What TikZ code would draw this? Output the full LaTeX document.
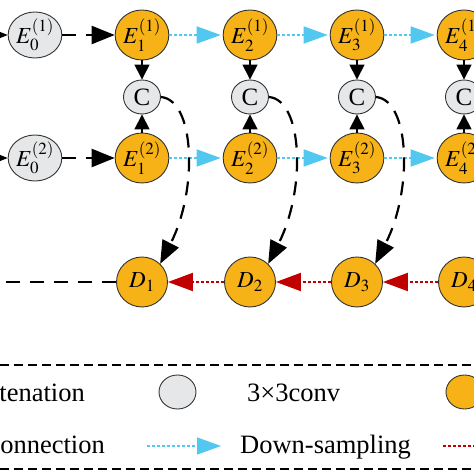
\documentclass[tikz,border=0pt]{standalone}
\usepackage{mathptmx}
\usepackage{fontspec}
\setmainfont{Liberation Serif}
\usetikzlibrary{arrows.meta,shapes.geometric}

\definecolor{encorange}{RGB}{246,178,22}
\definecolor{convgray}{RGB}{230,231,232}
\definecolor{downcyan}{RGB}{82,200,240}
\definecolor{upred}{RGB}{192,0,0}

\begin{document}
\begin{tikzpicture}[x=1pt,y=1pt,
    convnode/.style={ellipse, draw=black!80, line width=0.9pt, fill=convgray, inner sep=0pt,
        minimum width=53pt, minimum height=46pt, font=\fontsize{23}{27}\selectfont},
    encnode/.style={ellipse, draw=black!80, line width=0.9pt, fill=encorange, inner sep=0pt,
        minimum width=51pt, minimum height=50pt, font=\fontsize{23}{27}\selectfont},
    catnode/.style={convnode, minimum width=37pt, minimum height=34pt, font=\fontsize{25}{30}\selectfont},
    keynode/.style={minimum width=37pt, minimum height=34pt},
    legendtext/.style={inner sep=0pt, font=\fontsize{26.5}{30}\selectfont},
    longdash/.style={line width=2.2pt, dash pattern=on 14pt off 10pt},
    sepline/.style={line width=1.8pt, dash pattern=on 9pt off 5pt},
    blacktip/.style={-{Triangle[length=23pt,width=18pt]}},
    smalltip/.style={line width=1.5pt, -{Triangle[length=15pt,width=15pt]}},
    downarrow/.style={downcyan, line width=1.6pt, dash pattern=on 3pt off 2pt,
        -{Triangle[length=24pt,width=17pt]}, shorten >=2pt},
    uparrow/.style={upred, line width=2pt, dash pattern=on 3pt off 2pt,
        -{Triangle[length=25pt,width=18pt]}},
]
    \useasboundingbox (0,0) rectangle (474,474);
    \clip (0,0) rectangle (474,474);

    % encoder, first branch
    \node[convnode] (E01) at (35,439) {$E_0^{(1)}$};
    \node[encnode] (E11) at (142,439) {$E_1^{(1)}$};
    \node[encnode] (E21) at (250,439) {$E_2^{(1)}$};
    \node[encnode] (E31) at (357,439) {$E_3^{(1)}$};
    \node[encnode] (E41) at (464,439) {$E_4^{(1)}$};

    % concatenation
    \node[catnode] (C1) at (142,377) {C};
    \node[catnode] (C2) at (250,377) {C};
    \node[catnode] (C3) at (357,377) {C};
    \node[catnode] (C4) at (464,377) {C};

    % encoder, second branch
    \node[convnode] (E02) at (35,316) {$E_0^{(2)}$};
    \node[encnode] (E12) at (142,316) {$E_1^{(2)}$};
    \node[encnode] (E22) at (250,316) {$E_2^{(2)}$};
    \node[encnode] (E32) at (357,316) {$E_3^{(2)}$};
    \node[encnode] (E42) at (464,316) {$E_4^{(2)}$};

    % decoder
    \node[encnode] (D1) at (142,192) {$D_1$};
    \node[encnode] (D2) at (250,192) {$D_2$};
    \node[encnode] (D3) at (357,192) {$D_3$};
    \node[encnode] (D4) at (464,192) {$D_4$};

    \coordinate (in1) at (-30,439);
    \coordinate (in2) at (-30,316);
    \coordinate (out1) at (-10,192);

    \draw[longdash, blacktip] (in1) -- (E01);
    \draw[longdash, blacktip] (in2) -- (E02);
    \draw[longdash, blacktip] (E01) -- (E11);
    \draw[longdash, blacktip] (E02) -- (E12);

    \draw[downarrow] (E11) -- (E21);
    \draw[downarrow] (E21) -- (E31);
    \draw[downarrow] (E31) -- (E41);
    \draw[downarrow] (E12) -- (E22);
    \draw[downarrow] (E22) -- (E32);
    \draw[downarrow] (E32) -- (E42);

    \draw[smalltip] (E11) -- (C1);
    \draw[smalltip] (E21) -- (C2);
    \draw[smalltip] (E31) -- (C3);
    \draw[smalltip] (E41) -- (C4);
    \draw[smalltip] (E12) -- (C1);
    \draw[smalltip] (E22) -- (C2);
    \draw[smalltip] (E32) -- (C3);
    \draw[smalltip] (E42) -- (C4);

    % skip paths to the decoder
    \draw[longdash, blacktip] (C1.east) .. controls +(34,-3) and +(38,74) .. (D1.45);
    \draw[longdash, blacktip] (C2.east) .. controls +(34,-3) and +(38,74) .. (D2.45);
    \draw[longdash, blacktip] (C3.east) .. controls +(34,-3) and +(38,74) .. (D3.45);

    \draw[uparrow] (D2) -- (D1);
    \draw[uparrow] (D3) -- (D2);
    \draw[uparrow] (D4) -- (D3);
    \draw[longdash] (D1) -- (out1);

    % legend
    \draw[sepline] (0,109) -- (474,109);
    \draw[sepline] (0,5) -- (474,5);

    \node[legendtext, anchor=base east] (catlabel) at (85,72) {tenation};
    \node[convnode, keynode] (convkey) at (177.5,82) {};
    \node[legendtext, anchor=base west] (convlabel) at (247,72) {3×3conv};
    \node[encnode, keynode] (enckey) at (464.5,82) {};

    \node[legendtext, anchor=base east] (skiplabel) at (105,20) {onnection};
    \coordinate (downa) at (147,28);
    \coordinate (downb) at (223,28);
    \draw[downarrow] (downa) -- (downb);
    \node[legendtext, anchor=base west] (downlabel) at (240,20) {Down-sampling};
    \coordinate (upa) at (443,28);
    \coordinate (upb) at (520,28);
    \draw[upred, line width=2pt, dash pattern=on 3pt off 2pt] (upa) -- (upb);
\end{tikzpicture}
\end{document}
